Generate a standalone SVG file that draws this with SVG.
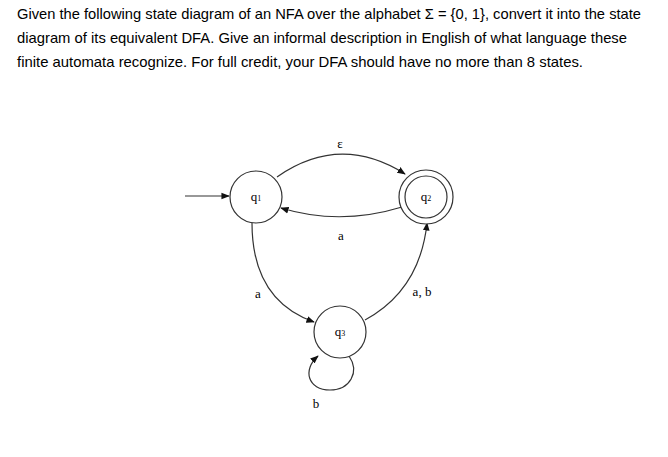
<svg xmlns="http://www.w3.org/2000/svg" width="668" height="457" viewBox="0 0 668 457">
<style>
.t{font-family:"Liberation Sans",Arial,sans-serif;font-size:14.5px;fill:#000}
.s{font-family:"Liberation Serif","Times New Roman",serif;font-size:13px;fill:#000}
.n{fill:#fff;stroke:#333;stroke-width:1.2}
.e{fill:none;stroke:#333;stroke-width:1.2;marker-end:url(#ah)}
</style>
<defs><marker id="ah" viewBox="0 0 10 10" refX="9" refY="5" markerWidth="7" markerHeight="7" orient="auto"><path d="M0,1 L10,5 L0,9 z" fill="#111"/></marker></defs>
<rect width="668" height="457" fill="#fff"/>
<text class="t" x="17" y="19" textLength="624" lengthAdjust="spacingAndGlyphs">Given the following state diagram of an NFA over the alphabet Σ = {0, 1}, convert it into the state</text>
<text class="t" x="17" y="43" textLength="610" lengthAdjust="spacingAndGlyphs">diagram of its equivalent DFA.  Give an informal description in English of what language these</text>
<text class="t" x="17" y="67" textLength="566" lengthAdjust="spacingAndGlyphs">finite automata recognize.  For full credit, your DFA should have no more than 8 states.</text>
<g id="edges">
<path class="e" d="M185,196 L229,196"/>
<path class="e" d="M277,177 Q340,133 405,174"/>
<path class="e" d="M402,207 Q340,226 281,208"/>
<path class="e" d="M252,223 Q252,300 314,322"/>
<path class="e" d="M365,320 Q420,290 427,223"/>
<path class="e" d="M349,356 C360,372 350,390 330,390 C308,390 302,370 318,356"/>
</g>
<text class="s" x="340" y="148" text-anchor="middle">ε</text>
<text class="s" x="341" y="240" text-anchor="middle">a</text>
<text class="s" x="258" y="298" text-anchor="middle">a</text>
<text class="s" x="422" y="296" text-anchor="middle">a, b</text>
<text class="s" x="316" y="408" text-anchor="middle">b</text>
<g id="q1"><circle class="n" cx="256" cy="197" r="26"/><text class="s" x="256" y="201" text-anchor="middle">q<tspan font-size="8">1</tspan></text></g>
<g id="q2"><circle class="n" cx="426" cy="197" r="27"/><circle class="n" cx="426" cy="197" r="21"/><text class="s" x="426" y="201" text-anchor="middle">q<tspan font-size="8">2</tspan></text></g>
<g id="q3"><circle class="n" cx="340" cy="332" r="26"/><text class="s" x="340" y="336" text-anchor="middle">q<tspan font-size="8">3</tspan></text></g>
</svg>
